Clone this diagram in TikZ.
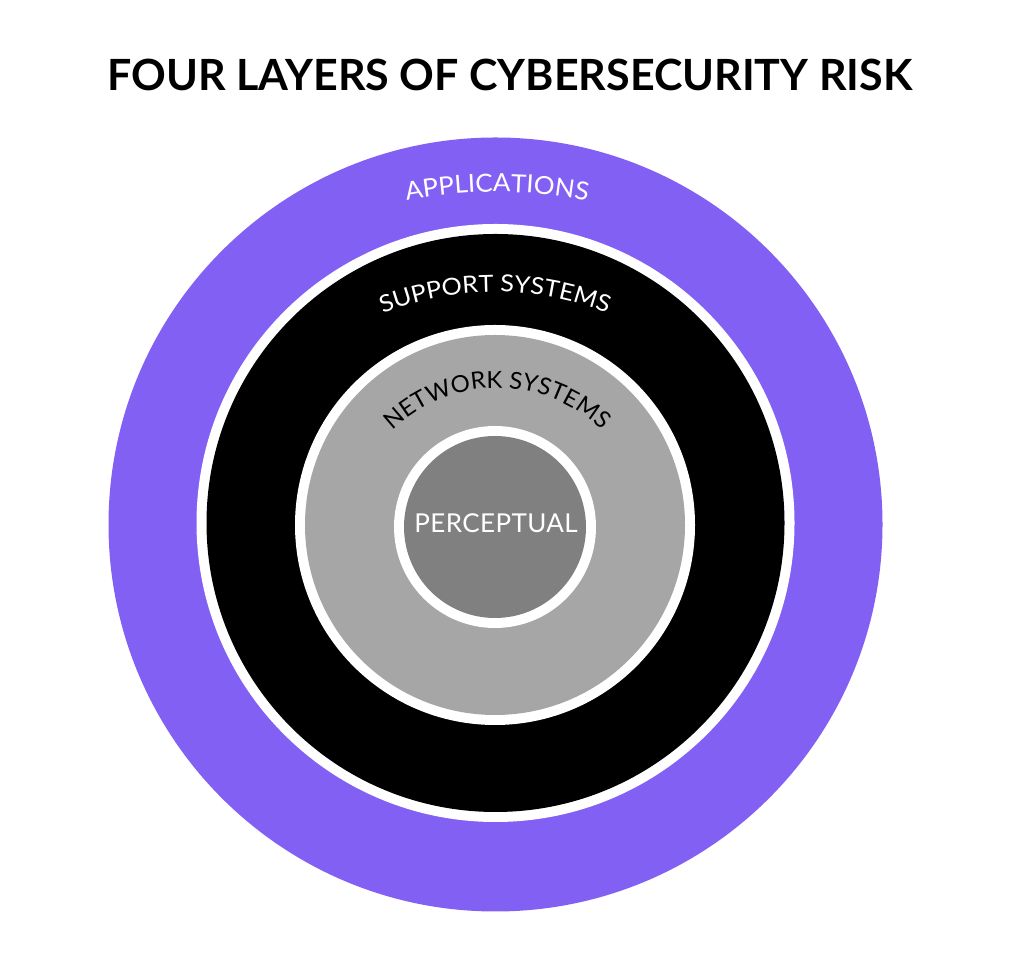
\documentclass[tikz,border=0pt]{standalone}
\usepackage{fontspec}
\newfontfamily\lato{Lato}
\newfontfamily\latoA[FakeStretch=1.04]{Lato}
\newfontfamily\latoB[FakeStretch=1.075]{Lato}
\newfontfamily\latoC[FakeStretch=1.02]{Lato}
\newfontfamily\latoD[LetterSpace=1.5]{Lato}
\usetikzlibrary{decorations.text}
\definecolor{appl}{RGB}{131,96,244}
\definecolor{netgray}{RGB}{166,166,166}
\definecolor{pergray}{RGB}{128,128,128}
\tikzset{
  ringtext/.style={decorate, decoration={text along path, text align=center, text={#1}}}
}
\newcommand{\sz}[1]{\fontsize{#1}{#1}\selectfont}
\begin{document}
\begin{tikzpicture}[x=1pt,y=1pt]
\useasboundingbox[fill=white] (0,0) rectangle (1024,960);
% title
\node[anchor=base, inner sep=0pt, font=\lato\bfseries\sz{43}] (title) at (510,869) {FOUR LAYERS OF CYBERSECURITY RISK};
% rings
\fill[appl] (495.5,435.5) circle[radius=387];
\fill[white] (495.5,437) circle[radius=299];
\fill[black] (495.5,437) circle[radius=289];
\fill[white] (495,435) circle[radius=200];
\fill[netgray] (495,435) circle[radius=190];
\fill[white] (495,433) circle[radius=101];
\fill[pergray] (495,433) circle[radius=91];
% curved labels
\path[ringtext={|\latoA\sz{25}\color{white}|APPLICATIONS}]
  (497,288) ++(130:480) arc[start angle=130, end angle=50, radius=480];
\path[ringtext={|\latoB\sz{23.5}\color{white}|SUPPORT SYSTEMS}]
  (495,364) ++(145:304) arc[start angle=145, end angle=35, radius=304];
\path[ringtext={|\latoC\sz{23.5}\color{black}|NETWORK SYSTEMS}]
  (497,421) ++(175:151) arc[start angle=175, end angle=5, radius=151];
\node[anchor=base, inner sep=0pt, text=white, font=\latoD\sz{26}] (perceptual) at (496,427) {PERCEPTUAL};
\end{tikzpicture}
\end{document}
